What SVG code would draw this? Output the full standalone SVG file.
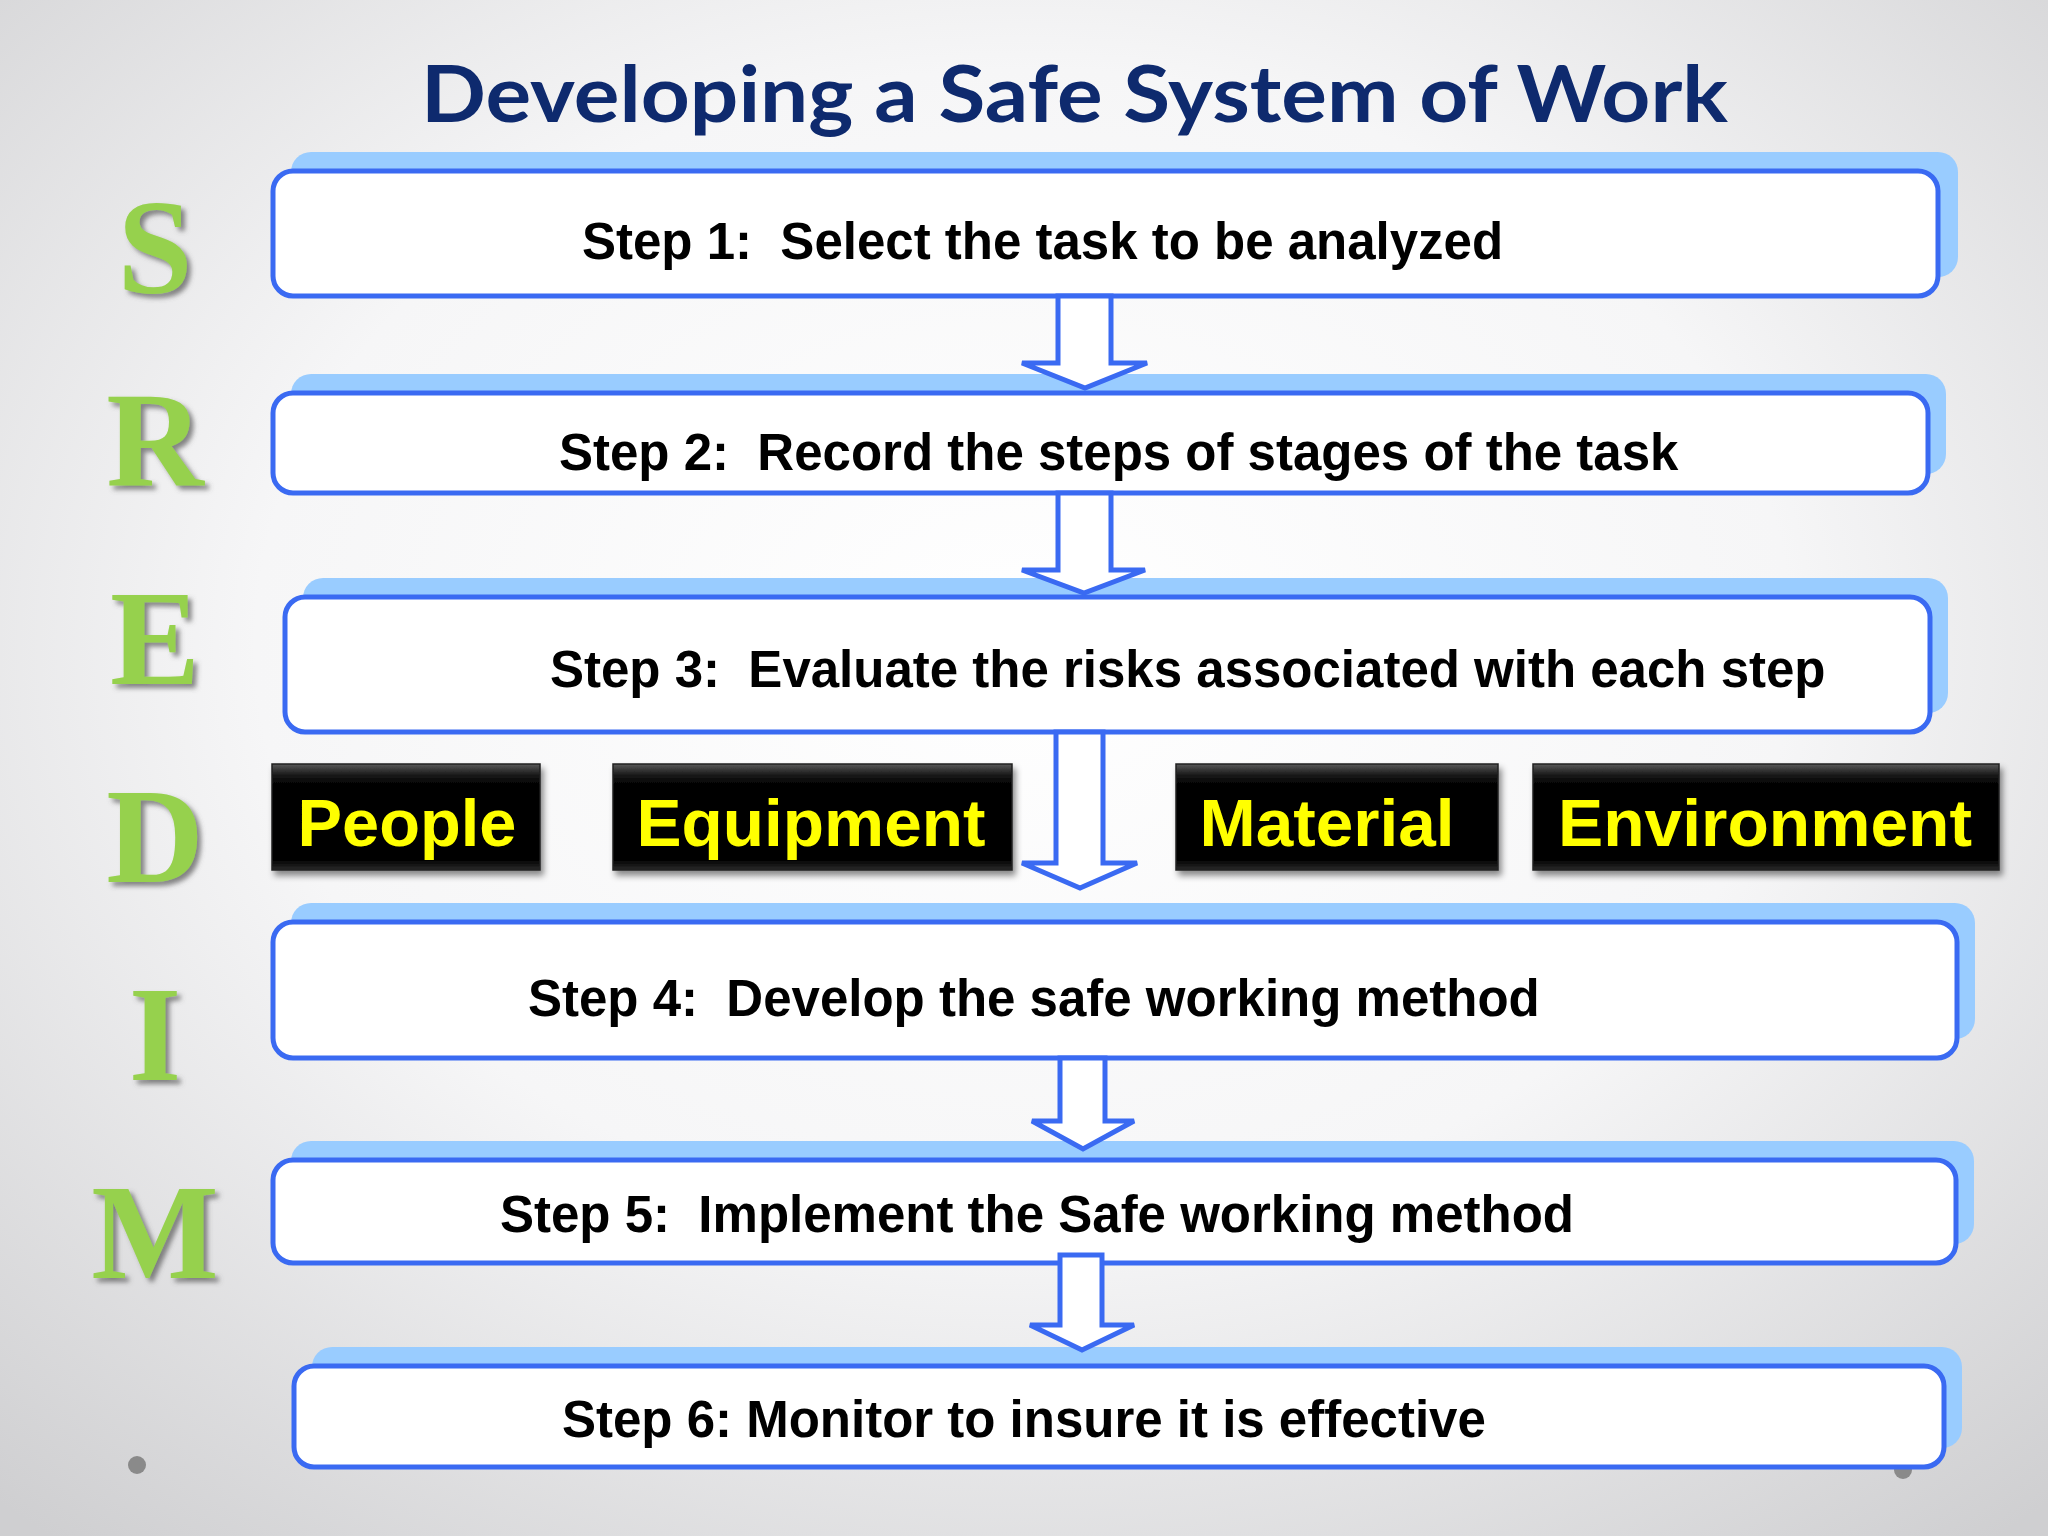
<svg xmlns="http://www.w3.org/2000/svg" width="2048" height="1536" viewBox="0 0 2048 1536">
<defs>
<radialGradient id="bg" cx="50%" cy="42%" r="75%">
<stop offset="0" stop-color="#ffffff"/>
<stop offset="0.5" stop-color="#f6f6f7"/>
<stop offset="1" stop-color="#cfcfd1"/>
</radialGradient>
<linearGradient id="bevel" x1="0" y1="0" x2="0" y2="1">
<stop offset="0" stop-color="#5a5a5a"/>
<stop offset="0.1" stop-color="#1a1a1a"/>
<stop offset="0.2" stop-color="#000000"/>
<stop offset="0.9" stop-color="#000000"/>
<stop offset="1" stop-color="#2a2a2a"/>
</linearGradient>
<filter id="sh" x="-10%" y="-10%" width="130%" height="140%">
<feDropShadow dx="3" dy="5" stdDeviation="3" flood-color="#000" flood-opacity="0.45"/>
</filter>
<filter id="gsh" x="-20%" y="-20%" width="150%" height="150%">
<feDropShadow dx="4" dy="4" stdDeviation="2.5" flood-color="#555" flood-opacity="0.7"/>
</filter>
<style>
.back{fill:#99CCFF;}
.box{fill:#ffffff;stroke:#3A6AF2;stroke-width:5;}
.step{font-family:"Liberation Sans",Arial,sans-serif;font-weight:bold;font-size:51px;fill:#000;white-space:pre;}
.blk{fill:url(#bevel);stroke:#222;stroke-width:1.5;}
.blt{font-family:"Liberation Sans",Arial,sans-serif;font-weight:bold;font-size:66px;fill:#FFFF00;text-anchor:middle;}
.let{font-family:"Liberation Serif","Times New Roman",serif;font-weight:bold;font-size:135px;fill:#96D14E;text-anchor:middle;}
.arr{fill:#ffffff;stroke:#3A6AF2;stroke-width:5;stroke-linejoin:miter;}
</style>
</defs>
<rect x="0" y="0" width="2048" height="1536" fill="url(#bg)"/>

<text x="421" y="122" font-family="Lato,'Liberation Sans',sans-serif" font-weight="bold" font-size="79" fill="#0E2A6E" textLength="1307" lengthAdjust="spacingAndGlyphs">Developing a Safe System of Work</text>

<g id="letters" filter="url(#gsh)">
<text class="let" x="155" y="293">S</text>
<text class="let" x="155" y="486">R</text>
<text class="let" x="155" y="684">E</text>
<text class="let" x="155" y="882">D</text>
<text class="let" x="155" y="1080">I</text>
<text class="let" x="155" y="1278">M</text>
</g>
<circle cx="137" cy="1465" r="9" fill="#8a8a8a"/>
<circle cx="1903" cy="1470" r="9" fill="#8a8a8a"/>

<g id="step1">
<rect class="back" x="291" y="152" width="1667" height="125" rx="20"/>
<rect class="box" x="273" y="171" width="1665" height="125" rx="20"/>
<text class="step" x="582" y="259" xml:space="preserve">Step 1:  Select the task to be analyzed</text>
</g>
<g id="step2">
<rect class="back" x="291" y="374" width="1655" height="100" rx="20"/>
<rect class="box" x="273" y="393" width="1655" height="100" rx="20"/>
<text class="step" x="559" y="470" xml:space="preserve">Step 2:  Record the steps of stages of the task</text>
</g>
<g id="step3">
<rect class="back" x="303" y="578" width="1645" height="135" rx="20"/>
<rect class="box" x="285" y="597" width="1645" height="135" rx="20"/>
<text class="step" x="550" y="687" xml:space="preserve">Step 3:  Evaluate the risks associated with each step</text>
</g>
<g id="step4">
<rect class="back" x="291" y="903" width="1684" height="136" rx="20"/>
<rect class="box" x="273" y="922" width="1684" height="136" rx="20"/>
<text class="step" x="528" y="1016" xml:space="preserve">Step 4:  Develop the safe working method</text>
</g>
<g id="step5">
<rect class="back" x="291" y="1141" width="1683" height="103" rx="20"/>
<rect class="box" x="273" y="1160" width="1683" height="103" rx="20"/>
<text class="step" x="500" y="1232" xml:space="preserve">Step 5:  Implement the Safe working method</text>
</g>
<g id="step6">
<rect class="back" x="312" y="1347" width="1650" height="101" rx="20"/>
<rect class="box" x="294" y="1366" width="1650" height="101" rx="20"/>
<text class="step" x="562" y="1437">Step 6: Monitor to insure it is effective</text>
</g>

<g id="people" filter="url(#sh)">
<rect class="blk" x="272" y="764" width="268" height="106"/>
<text class="blt" x="407" y="846" textLength="219" lengthAdjust="spacingAndGlyphs">People</text>
</g>
<g id="equipment" filter="url(#sh)">
<rect class="blk" x="613" y="764" width="399" height="106"/>
<text class="blt" x="811" y="846" textLength="349" lengthAdjust="spacingAndGlyphs">Equipment</text>
</g>
<g id="material" filter="url(#sh)">
<rect class="blk" x="1176" y="764" width="322" height="106"/>
<text class="blt" x="1327" y="846" textLength="255" lengthAdjust="spacingAndGlyphs">Material</text>
</g>
<g id="environment" filter="url(#sh)">
<rect class="blk" x="1533" y="764" width="466" height="106"/>
<text class="blt" x="1765" y="846" textLength="414" lengthAdjust="spacingAndGlyphs">Environment</text>
</g>

<g id="connectors">
<polygon class="arr" points="1058,296 1111,296 1111,363 1147,363 1085,388 1022,363 1058,363"/>
<polygon class="arr" points="1058,493 1111,493 1111,570 1145,570 1084,593 1022,570 1058,570"/>
<polygon class="arr" points="1056,732 1103,732 1103,863 1137,863 1080,888 1022,863 1056,863"/>
<polygon class="arr" points="1060,1058 1105,1058 1105,1121 1134,1121 1083,1149 1032,1121 1060,1121"/>
<polygon class="arr" points="1060,1255 1102,1255 1102,1325 1134,1325 1082,1350 1030,1325 1060,1325"/>
</g>
</svg>
